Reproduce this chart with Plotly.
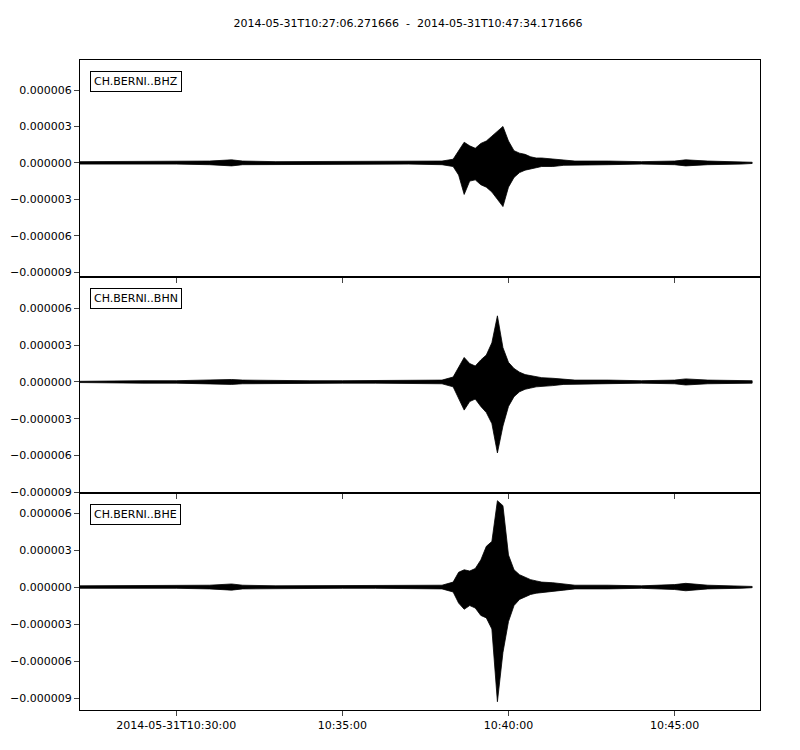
import plotly.graph_objects as go
from plotly.subplots import make_subplots

day = "2014-05-31 "

# envelope sample times (HH:MM:SS)
times = ["10:27:06", "10:28:00", "10:29:00", "10:30:00", "10:31:00", "10:31:40", "10:32:00",
         "10:33:00", "10:34:00", "10:35:00", "10:36:00", "10:37:00", "10:38:00",
         "10:38:20", "10:38:30", "10:38:40", "10:38:50", "10:39:00", "10:39:10",
         "10:39:20", "10:39:30", "10:39:40", "10:39:50", "10:40:00", "10:40:10",
         "10:40:20", "10:40:30", "10:40:40", "10:40:50", "10:41:00", "10:41:20",
         "10:41:40", "10:42:00", "10:43:00", "10:44:00", "10:45:00", "10:45:20",
         "10:46:00", "10:47:00", "10:47:20"]

# upper / lower envelopes in micro-units (x 1e-6)
bhz_up = [0.1, 0.1, 0.1, 0.1, 0.15, 0.25, 0.15, 0.1, 0.1, 0.1, 0.1, 0.1, 0.15,
          0.3, 1.0, 1.7, 1.4, 1.2, 1.6, 1.8, 2.2, 2.6, 3.0, 1.8, 1.0,
          0.8, 0.7, 0.5, 0.4, 0.4, 0.3, 0.2, 0.15, 0.15, 0.1, 0.15, 0.25, 0.15, 0.1, 0.05]
bhz_lo = [-0.1, -0.1, -0.1, -0.1, -0.15, -0.25, -0.15, -0.1, -0.1, -0.1, -0.1, -0.1, -0.15,
          -0.3, -1.0, -2.6, -1.5, -1.4, -1.8, -2.0, -2.4, -3.0, -3.6, -2.0, -1.2,
          -0.8, -0.6, -0.5, -0.4, -0.3, -0.3, -0.2, -0.15, -0.15, -0.1, -0.15, -0.25, -0.15, -0.1, -0.05]
bhn_up = [0.05, 0.1, 0.1, 0.1, 0.15, 0.2, 0.15, 0.1, 0.1, 0.1, 0.1, 0.1, 0.15,
          0.4, 1.2, 2.0, 1.5, 1.3, 1.8, 2.2, 3.2, 5.4, 2.8, 1.6, 1.1,
          0.8, 0.6, 0.5, 0.4, 0.35, 0.3, 0.2, 0.15, 0.15, 0.1, 0.15, 0.25, 0.15, 0.1, 0.1]
bhn_lo = [-0.05, -0.1, -0.1, -0.1, -0.15, -0.2, -0.15, -0.1, -0.1, -0.1, -0.1, -0.1, -0.15,
          -0.4, -1.3, -2.3, -1.6, -1.4, -2.0, -2.5, -3.4, -5.8, -3.6, -2.0, -1.2,
          -0.8, -0.6, -0.5, -0.4, -0.35, -0.3, -0.2, -0.15, -0.15, -0.1, -0.15, -0.25, -0.15, -0.1, -0.1]
bhe_up = [0.1, 0.1, 0.1, 0.1, 0.15, 0.25, 0.15, 0.1, 0.1, 0.1, 0.1, 0.1, 0.15,
          0.4, 1.2, 1.4, 1.3, 1.5, 2.2, 3.3, 3.7, 7.0, 6.6, 2.6, 1.4,
          1.0, 0.8, 0.6, 0.5, 0.4, 0.35, 0.25, 0.15, 0.15, 0.1, 0.2, 0.3, 0.15, 0.1, 0.05]
bhe_lo = [-0.1, -0.1, -0.1, -0.1, -0.15, -0.25, -0.15, -0.1, -0.1, -0.1, -0.1, -0.1, -0.15,
          -0.4, -1.3, -1.8, -1.5, -1.7, -2.3, -2.5, -3.4, -9.3, -5.3, -2.8, -1.5,
          -1.0, -0.8, -0.6, -0.5, -0.4, -0.35, -0.25, -0.15, -0.15, -0.1, -0.2, -0.3, -0.15, -0.1, -0.05]

labels = ["CH.BERNI..BHZ", "CH.BERNI..BHN", "CH.BERNI..BHE"]
ranges = [[-9.37e-6, 8.47e-6], [-9.1e-6, 8.6e-6], [-9.97e-6, 7.6e-6]]
ytick_vals = [-9e-6, -6e-6, -3e-6, 0, 3e-6, 6e-6]
ytick_text = ["\u22120.000009", "\u22120.000006", "\u22120.000003", "0.000000", "0.000003", "0.000006"]
xtick_vals = [day + "10:30:00", day + "10:35:00", day + "10:40:00", day + "10:45:00"]
xtick_text = ["2014-05-31T10:30:00", "10:35:00", "10:40:00", "10:45:00"]

fig = make_subplots(rows=3, cols=1, shared_xaxes=True, vertical_spacing=0)

traces = [(bhz_up, bhz_lo), (bhn_up, bhn_lo), (bhe_up, bhe_lo)]
for i, (up, lo) in enumerate(traces):
    # envelope polygon: upper edge forward, lower edge back
    xs = [day + t for t in times] + [day + t for t in times[::-1]]
    ys = [u * 1e-6 for u in up] + [l * 1e-6 for l in lo[::-1]]
    fig.add_trace(go.Scatter(x=xs, y=ys, mode="lines", fill="toself", fillcolor="black",
                             line=dict(color="black", width=0.8), showlegend=False),
                  row=i + 1, col=1)
    fig.update_yaxes(range=ranges[i], tickvals=ytick_vals, ticktext=ytick_text,
                     row=i + 1, col=1)
    fig.add_annotation(text=labels[i], xref="x domain", yref="y domain" if i == 0 else f"y{i+1} domain",
                       x=0.015, y=0.95, xanchor="left", yanchor="top", showarrow=False,
                       bordercolor="black", borderwidth=1, borderpad=3, bgcolor="white",
                       font=dict(size=11, color="black"))

fig.update_yaxes(showline=True, mirror=True, linecolor="black", ticks="outside",
                 showgrid=False, zeroline=False, automargin=False,
                 tickfont=dict(size=11, color="black"))
fig.update_xaxes(showline=True, mirror=True, linecolor="black", ticks="outside",
                 showgrid=False, automargin=False,
                 range=[day + "10:27:06.27", day + "10:47:34.17"],
                 tickvals=xtick_vals, ticktext=xtick_text, tickfont=dict(size=11, color="black"))
fig.update_xaxes(showticklabels=False, row=1, col=1)
fig.update_xaxes(showticklabels=False, row=2, col=1)

fig.update_layout(width=800, height=750, plot_bgcolor="white", paper_bgcolor="white",
                  margin=dict(l=72, r=48, t=52, b=48),
                  font=dict(family="DejaVu Sans", color="black"),
                  title=dict(text="2014-05-31T10:27:06.271666  -  2014-05-31T10:47:34.171666",
                             x=0.5, y=0.985, xanchor="center", automargin=False,
                             font=dict(size=11)))

fig.write_html("out.html")
